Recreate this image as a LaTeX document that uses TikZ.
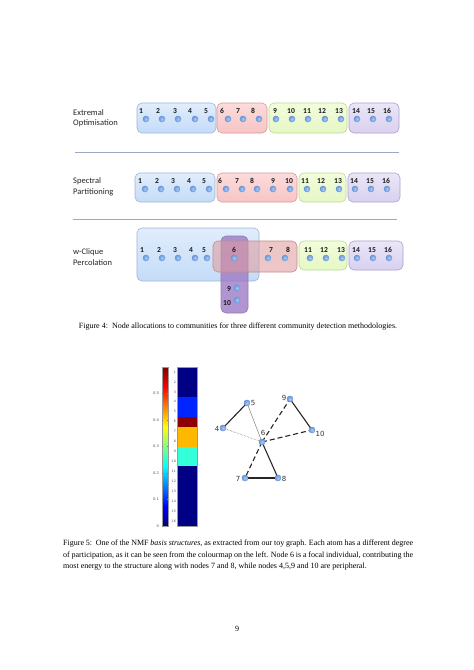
\documentclass[tikz,border=0pt]{standalone}
\usepackage{fontspec}
\setmainfont{Liberation Serif}
\newfontfamily\calib{Carlito}
\newfontfamily\dvs{DejaVu Sans}
\definecolor{bfillA}{rgb}{0.88,0.93,0.99}
\definecolor{bfillB}{rgb}{0.77,0.86,0.97}
\definecolor{bdraw}{rgb}{0.62,0.71,0.86}
\definecolor{pfillA}{rgb}{0.99,0.86,0.86}
\definecolor{pfillB}{rgb}{0.97,0.77,0.77}
\definecolor{pdraw}{rgb}{0.86,0.60,0.60}
\definecolor{gfillA}{rgb}{0.95,0.99,0.86}
\definecolor{gfillB}{rgb}{0.90,0.97,0.77}
\definecolor{gdraw}{rgb}{0.74,0.86,0.58}
\definecolor{ufillA}{rgb}{0.92,0.90,0.97}
\definecolor{ufillB}{rgb}{0.85,0.82,0.94}
\definecolor{udraw}{rgb}{0.68,0.63,0.80}
\definecolor{dotin}{rgb}{0.66,0.79,0.96}
\definecolor{dotout}{rgb}{0.40,0.58,0.84}
\definecolor{sepc}{rgb}{0.60,0.67,0.76}
\definecolor{jdark}{rgb}{0,0,0.5}
\definecolor{jblue}{rgb}{0,0,1}
\definecolor{jcyan}{rgb}{0,1,1}
\definecolor{jyel}{rgb}{1,1,0}
\definecolor{jred}{rgb}{1,0,0}
\definecolor{jdred}{rgb}{0.5,0,0}
\definecolor{cdark}{rgb}{0,0,0.52}
\definecolor{cblue}{rgb}{0,0.15,1}
\definecolor{cdred}{rgb}{0.55,0,0}
\definecolor{corange}{rgb}{1,0.72,0}
\definecolor{ccyan}{rgb}{0.2,1,0.85}
\definecolor{vpurple}{rgb}{0.62,0.48,0.78}
\definecolor{vpink}{rgb}{0.88,0.60,0.60}
\tikzset{
  bbox/.style={rounded corners=5pt, draw=bdraw, line width=0.6pt, top color=bfillA, bottom color=bfillB},
  pbox/.style={rounded corners=5pt, draw=pdraw, line width=0.6pt, top color=pfillA, bottom color=pfillB},
  gbox/.style={rounded corners=5pt, draw=gdraw, line width=0.6pt, top color=gfillA, bottom color=gfillB},
  ubox/.style={rounded corners=5pt, draw=udraw, line width=0.6pt, top color=ufillA, bottom color=ufillB},
  ndot/.style={circle, inner sep=0pt, minimum size=6.6pt, inner color=dotin, outer color=dotout, draw=none},
  gdot/.style={circle, inner sep=0pt, minimum size=6.4pt, inner color=dotin, outer color=dotout, draw=none},
  numlab/.style={font=\calib\bfseries\fontsize{7.6}{8}\selectfont, text=black!90, inner sep=0pt},
  rowlab/.style={font=\calib\fontsize{8.5}{10.5}\selectfont, text=black!85, align=left, anchor=west, inner sep=0pt},
  seprule/.style={draw=sepc, line width=1pt},
  gl/.style={font=\dvs\fontsize{7}{7}\selectfont, text=black!80, inner sep=0pt},
  ticklab/.style={font=\dvs\fontsize{3.6}{3.6}\selectfont, text=black!70, inner sep=0pt, anchor=east},
  idxlab/.style={font=\dvs\fontsize{3.2}{3.2}\selectfont, text=black!70, inner sep=0pt, anchor=east},
  thickedge/.style={line width=1.1pt, black!85},
  thinedge/.style={line width=0.5pt, black!50},
}
\begin{document}
\begin{tikzpicture}[x=1pt,y=-1pt]
\useasboundingbox (0,0) rectangle (474,670);
\fill[white] (0,0) rectangle (474,670);

% ---------- Row 1: Extremal Optimisation ----------
\node[rowlab] (lab1) at (73,118) {Extremal\\Optimisation};
\draw[bbox] (137,103) rectangle (216,133);
\draw[pbox] (217,103) rectangle (267,133);
\draw[gbox] (269,103) rectangle (347,133);
\draw[ubox] (349,103) rectangle (399,133);
\foreach \i/\x/\lx in {1/146/141,2/162/158,3/178/175,4/195/190,5/211/206,6/228/222,7/243/238,8/259/253,9/276/275,10/292/291,11/308/307,12/325/322,13/341/339,14/357/356,15/373/371,16/389/387}{
  \node[ndot] (a\i) at (\x,119) {};
  \node[numlab] (al\i) at (\lx,111) {\i};
}
\coordinate (s1a) at (75,152); \coordinate (s1b) at (399,152);
\draw[seprule] (s1a) -- (s1b);

% ---------- Row 2: Spectral Partitioning ----------
\node[rowlab] (lab2) at (73,187) {Spectral\\Partitioning};
\draw[bbox] (135,173) rectangle (215,202);
\draw[pbox] (217,173) rectangle (297,202);
\draw[gbox] (299,173) rectangle (346,202);
\draw[ubox] (348,173) rectangle (400,202);
\foreach \i/\x/\lx in {1/145/140,2/161/157,3/177/173,4/193/189,5/209/204,6/226/220,7/242/237,8/257/252,9/273/273,10/290/289,11/307/305,12/323/321,13/339/338,14/355/354,15/371/370,16/387/386}{
  \node[ndot] (b\i) at (\x,189) {};
  \node[numlab] (bl\i) at (\lx,181) {\i};
}
\coordinate (s2a) at (73,219); \coordinate (s2b) at (397,219);
\draw[seprule] (s2a) -- (s2b);

% ---------- Row 3: w-Clique Percolation ----------
\node[rowlab] (lab3) at (73,257) {w-Clique\\Percolation};
\draw[bbox] (137,228) rectangle (259,281);
\draw[rounded corners=5pt, draw=udraw!80!black, line width=0.6pt, fill=vpurple, fill opacity=0.8] (221,236) rectangle (248,313);
\draw[rounded corners=5pt, draw=pdraw!90!black, line width=0.6pt, fill=vpink, fill opacity=0.55] (213,241) rectangle (297,272);
\draw[gbox] (299,241) rectangle (347,270);
\draw[ubox] (349,241) rectangle (403,270);
\foreach \i/\x/\lx in {1/146/142,2/162/159,3/178/175,4/195/191,5/207/204,6/234/234,7/268/271,8/285/288,11/310/308,12/326/324,13/342/341,14/357/356,15/373/372,16/389/388}{
  \node[ndot] (c\i) at (\x,258) {};
  \node[numlab] (cl\i) at (\lx,250) {\i};
}
\node[ndot] (c9) at (237,288) {};
\node[numlab] (cl9) at (229,289) {9};
\node[ndot] (c10) at (237,300) {};
\node[numlab] (cl10) at (227,303) {10};

% ---------- Figure 4 caption ----------
\node[font=\fontsize{8}{9.6}\selectfont, inner sep=0pt] (cap4) at (238,327) {Figure 4:\ \ Node allocations to communities for three different community detection methodologies.};

% ---------- Colour bar ----------
\shade[bottom color=jdark, top color=jblue] (162,526) rectangle (168,506.1);
\shade[bottom color=jblue, top color=jcyan] (162,506.2) rectangle (168,466.4);
\shade[bottom color=jcyan, top color=jyel] (162,466.5) rectangle (168,426.6);
\shade[bottom color=jyel, top color=jred] (162,426.7) rectangle (168,386.9);
\shade[bottom color=jred, top color=jdred] (162,387) rectangle (168,367);
\draw[black!40, line width=0.3pt] (162,367) rectangle (168,526);
\foreach \v/\y in {0/526,0.1/499.5,0.2/473,0.3/446.5,0.4/420,0.5/393.5}{
  \node[ticklab] at (159,\y) {\v};
  \draw[black!50, line width=0.2pt] (162,\y) -- (163.2,\y);
  \draw[black!50, line width=0.2pt] (168,\y) -- (166.8,\y);
}

% ---------- Basis column ----------
\fill[cdark] (177,367) rectangle (197,396.8);
\fill[cblue] (177,396.8) rectangle (197,416.7);
\fill[cdred] (177,416.7) rectangle (197,426.6);
\fill[corange] (177,426.6) rectangle (197,446.5);
\fill[ccyan] (177,446.5) rectangle (197,466.4);
\fill[cdark] (177,466.4) rectangle (197,526);
\draw[black!40, line width=0.3pt] (177,367) rectangle (197,526);
\foreach \k in {1,...,16}{
  \node[idxlab] at (176,{367+(\k-0.5)*9.94}) {\k};
}

% ---------- Graph ----------
\node[gdot] (g4) at (223,428) {};
\node[gdot] (g5) at (247,403) {};
\node[gdot] (g6) at (262,442) {};
\node[gdot] (g7) at (245,478) {};
\node[gdot] (g8) at (278,478) {};
\node[gdot] (g9) at (290,399) {};
\node[gdot] (g10) at (312,430) {};
\draw[thickedge] (g4.center) -- (g5.center);
\draw[thinedge] (g5.center) -- (g6.center);
\draw[thinedge, densely dotted, line width=0.7pt] (g4.center) -- (g6.center);
\draw[thickedge, dash pattern=on 5pt off 3pt] (g6.center) -- (g9.center);
\draw[thickedge] (g9.center) -- (g10.center);
\draw[thickedge, dash pattern=on 5pt off 3pt] (g6.center) -- (g10.center);
\draw[thickedge, dash pattern=on 5pt off 3pt] (g6.center) -- (g7.center);
\draw[thickedge] (g6.center) -- (g8.center);
\draw[thickedge] (g7.center) -- (g8.center);
\foreach \n in {g4,g5,g6,g7,g8,g9,g10}{
  \node[gdot] at (\n) {};
}
\node[gl] (gl4) at (217,429) {4};
\node[gl] (gl5) at (253,403) {5};
\node[gl] (gl6) at (263,433) {6};
\node[gl] (gl7) at (238,479) {7};
\node[gl] (gl8) at (284,479) {8};
\node[gl] (gl9) at (284,398) {9};
\node[gl] (gl10) at (320,434) {10};

% ---------- Figure 5 caption ----------
\node[font=\fontsize{8}{11.8}\selectfont, inner sep=0pt, anchor=north west] (cap5) at (63,539.5) {\parbox{350pt}{\noindent Figure 5:\ \ One of the NMF \emph{basis structures}, as extracted from our toy graph. Each atom has a different degree\linebreak of participation, as it can be seen from the colourmap on the left. Node 6 is a focal individual, contributing the\linebreak most energy to the structure along with nodes 7 and 8, while nodes 4,5,9 and 10 are peripheral.}};

% ---------- Page number ----------
\node[font=\fontsize{8}{9.6}\selectfont, inner sep=0pt] (pnum) at (237,629) {9};
\end{tikzpicture}
\end{document}
